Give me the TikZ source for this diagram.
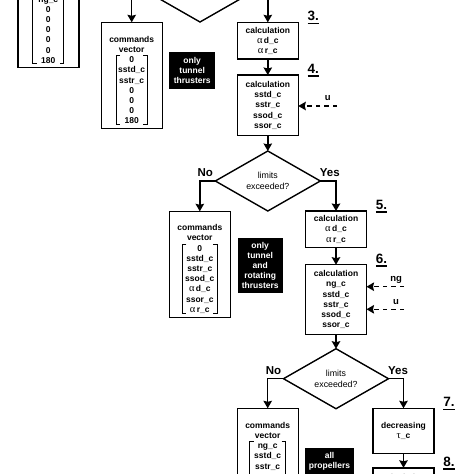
\documentclass[tikz,border=0pt]{standalone}
\usepackage{fontspec}
\setmainfont{Liberation Sans}
\newfontfamily\grkfont{Liberation Serif}
\usetikzlibrary{arrows.meta,calc,positioning,shapes.geometric}
\newcommand{\stepmark}[1]{\setbox0\hbox{#1}\rlap{\rule[-3.3pt]{\wd0}{1.4pt}}\box0}
\newcommand{\grk}[1]{{\grkfont\mdseries\fontsize{10.5}{10.2}\selectfont #1}}
\tikzset{
    %Define standard arrow tip
    >={Stealth[length=7.5pt,width=8.5pt,inset=1pt]},
    %Define style for boxes
    calcbox/.style={
           rectangle,
           draw=black, line width=1.4pt,
           outer sep=0pt, inner sep=1pt,
           minimum width=61pt,
           font=\fontsize{8.5}{10.2}\selectfont\bfseries,
           align=center},
    cmdbox/.style={
           calcbox,
           minimum height=106pt},
    blackbox/.style={
           rectangle,
           fill=black, text=white,
           outer sep=0pt, inner sep=1pt,
           font=\fontsize{8.5}{10}\selectfont\bfseries,
           align=center},
    decision/.style={
           diamond, aspect=1.75,
           draw=black, line width=1.4pt,
           outer sep=0pt, inner sep=0pt,
           minimum width=105pt,
           minimum height=60pt,
           font=\fontsize{8.8}{10.3}\selectfont,
           align=center},
    answer/.style={font=\fontsize{11.5}{12}\selectfont\bfseries},
    stepno/.style={font=\fontsize{13.5}{14}\selectfont\bfseries},
    inlbl/.style={font=\fontsize{9.5}{10}\selectfont\bfseries, inner sep=1pt},
    % Define arrow style
    pil/.style={->, line width=1.4pt},
    inpil/.style={->, line width=1.4pt, dash pattern=on 4.5pt off 4pt},
    brk/.style={line width=0.8pt}
}
\begin{document}
\begin{tikzpicture}[x=1pt,y=-1pt]
\useasboundingbox (0,0) rectangle (474,474);
\clip (0,0) rectangle (474,474);
% upper part, cut by the frame
\node[decision] (d1) at (200,-8) {};
\node[cmdbox, anchor=south] (cv0) at (48.3,67.7) {\rule{0pt}{15.6pt}\\ \mbox{}\\ng\_c\\0\\0\\0\\0\\0\\180};
\node[cmdbox, anchor=north] (cv1) at (131.7,22.3) {\rule{0pt}{15.6pt}commands\\vector\\0\\sstd\_c\\sstr\_c\\0\\0\\0\\180};
\node[blackbox, minimum width=45.7pt, minimum height=36.7pt] (only1) at (192.2,70.7) {only\\tunnel\\thrusters};
\node[calcbox, anchor=north, minimum height=36.7pt] (c3) at (267.8,22.3) {calculation\\\grk{α}\,d\_c\\\grk{α}\,r\_c};
\node[calcbox, below=16pt of c3, minimum height=60.7pt] (c4) {calculation\\sstd\_c\\sstr\_c\\ssod\_c\\ssor\_c};
\node[decision, below=15.3pt of c4] (d2) {limits\\exceeded?};
% middle part
\node[cmdbox, anchor=north] (cv2) at (199.8,211.3) {\rule{0pt}{15.6pt}commands\\vector\\0\\sstd\_c\\sstr\_c\\ssod\_c\\\grk{α}\,d\_c\\ssor\_c\\\grk{α}\,r\_c};
\node[blackbox, minimum width=45pt, minimum height=55.6pt] (only2) at (260.2,265.5) {only\\tunnel\\and\\rotating\\thrusters};
\node[calcbox, anchor=north, minimum height=36.7pt] (c5) at (336,211) {calculation\\\grk{α}\,d\_c\\\grk{α}\,r\_c};
\node[calcbox, below=17pt of c5, minimum height=70pt] (c6) {calculation\\ng\_c\\sstd\_c\\sstr\_c\\ssod\_c\\ssor\_c};
\node[decision, below=14pt of c6] (d3) {limits\\exceeded?};
% lower part
\node[cmdbox, anchor=north] (cv3) at (267.7,408.3) {\rule{0pt}{15.6pt}commands\\vector\\ng\_c\\sstd\_c\\sstr\_c\\ \mbox{}\\ \mbox{}\\ \mbox{}\\ \mbox{}};
\node[blackbox, anchor=north, minimum width=49pt, minimum height=26pt] (all) at (329.5,448.3) {all\\propellers};
\node[calcbox, anchor=north, minimum height=45pt] (c7) at (403.5,408.3) {decreasing\\\grk{τ}\_c};
\node[calcbox, below=14.5pt of c7, minimum height=20pt] (c8) {calculation};
% step numbers
\node[stepno] (s3) at ([xshift=15pt,yshift=4.5pt]c3.north east) {\stepmark{3.}};
\node[stepno] (s4) at ([xshift=15pt,yshift=4.5pt]c4.north east) {\stepmark{4.}};
\node[stepno] (s5) at ([xshift=15pt,yshift=4.5pt]c5.north east) {\stepmark{5.}};
\node[stepno] (s6) at ([xshift=15pt,yshift=4.5pt]c6.north east) {\stepmark{6.}};
\node[stepno] (s7) at ([xshift=15pt,yshift=4.5pt]c7.north east) {\stepmark{7.}};
\node[stepno] (s8) at ([xshift=15pt,yshift=4.5pt]c8.north east) {\stepmark{8.}};
% answers
\node[answer] (no2) at ([xshift=-10pt,yshift=8pt]d2.west) {No};
\node[answer] (yes2) at ([xshift=9.5pt,yshift=8pt]d2.east) {Yes};
\node[answer] (no3) at ([xshift=-10pt,yshift=8pt]d3.west) {No};
\node[answer] (yes3) at ([xshift=9.5pt,yshift=8pt]d3.east) {Yes};
% brackets of the vectors
\foreach \n/\w in {cv0/15.5, cv1/15.5, cv2/17.5, cv3/18}{
  \draw[brk] ($(\n.north)+(-\w+4,33.5)$) -| ($(\n.south)+(-\w,-4)$) -- ++(4,0);
  \draw[brk] ($(\n.north)+(\w-4,33.5)$) -| ($(\n.south)+(\w,-4)$) -- ++(-4,0);
}
% inputs
\coordinate (u4) at (337,106);
\coordinate (ng6) at (404,286.7);
\coordinate (u6) at (404,309.3);
% connectors
\draw[pil] (d1.west) -| (cv1.north);
\draw[pil] (d1.east) -| (c3.north);
\path[pil] (c3) edge (c4) (c4) edge (d2);
\draw[pil] (d2.west) -| (cv2.north);
\draw[pil] (d2.east) -| (c5.north);
\path[pil] (c5) edge (c6) (c6) edge (d3);
\draw[pil] (d3.west) -| (cv3.north);
\draw[pil] (d3.east) -| (c7.north);
\path[pil] (c7) edge (c8);
\draw[inpil] (u4) -- (u4 -| c4.east) node[inlbl, pos=0.24, above=3.5pt] {u};
\draw[inpil] (ng6) -- (ng6 -| c6.east) node[inlbl, pos=0.21, above=1.5pt] {ng};
\draw[inpil] (u6) -- (u6 -| c6.east) node[inlbl, pos=0.21, above=3.5pt] {u};
\end{tikzpicture}
\end{document}
